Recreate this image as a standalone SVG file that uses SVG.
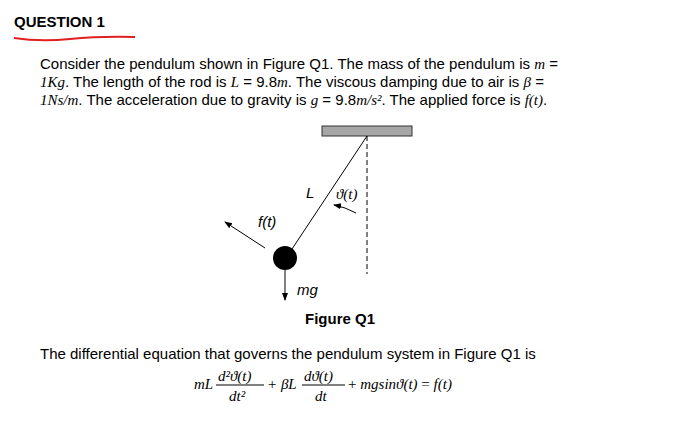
<svg xmlns="http://www.w3.org/2000/svg" width="683" height="423" viewBox="0 0 683 423">
<style>
.t{font-family:"Liberation Sans",Arial,sans-serif;font-size:15px;fill:#000}
.m{font-family:"Liberation Serif","DejaVu Serif",serif;font-style:italic;font-size:15px;fill:#000}
.b{font-weight:bold}
</style>
<defs><marker id="ah" markerWidth="8" markerHeight="8" refX="7" refY="4" orient="auto" markerUnits="userSpaceOnUse"><path d="M0,1 L8,4 L0,7 Z" fill="#000"/></marker></defs>
<rect width="683" height="423" fill="#fff"/>
<text class="t b" x="14" y="27" font-size="15">QUESTION 1</text>
<path d="M14,38 Q40,42 70,39 T135,37" stroke="#e02020" stroke-width="2" fill="none"/>
<text class="t" x="40" y="69">Consider the pendulum shown in Figure Q1.  The mass of the pendulum is <tspan class="m">m</tspan> =</text>
<text class="t" x="40" y="87"><tspan class="m">1Kg</tspan>. The length of the rod is <tspan class="m">L</tspan> = 9.8<tspan class="m">m</tspan>.  The viscous damping due to air is <tspan class="m">β</tspan> =</text>
<text class="t" x="40" y="105"><tspan class="m">1Ns/m</tspan>. The acceleration due to gravity is <tspan class="m">g</tspan> = 9.8<tspan class="m">m/s²</tspan>.  The applied force is <tspan class="m">f(t)</tspan>.</text>
<g id="support"><rect x="322" y="126" width="90" height="10" fill="#a6a6a6" stroke="#333" stroke-width="1"/></g>
<g id="connectors" stroke="#000" fill="none">
<line x1="367" y1="136" x2="367" y2="274" stroke-dasharray="5,3"/>
<line x1="367" y1="136" x2="292" y2="249"/>
<line x1="265" y1="248" x2="225" y2="222" marker-end="url(#ah)"/>
<line x1="285" y1="270" x2="285" y2="300" marker-end="url(#ah)"/>
<path d="M356,213 Q345,207 334,205" marker-end="url(#ah)"/>
</g>
<g id="bob"><circle cx="285" cy="258" r="12" fill="#000"/></g>
<text class="t" x="306" y="198" font-style="italic">L</text>
<text class="m" x="336" y="199">ϑ(t)</text>
<text class="t" x="258" y="227" font-style="italic">f(t)</text>
<text class="t" x="297" y="295" font-style="italic">mg</text>
<text class="t b" x="305" y="324">Figure Q1</text>
<text class="t" x="40" y="359">The differential equation that governs the pendulum system in Figure Q1 is</text>
<g id="equation" class="m">
<text class="m" x="194" y="389">mL</text>
<text class="m" x="218" y="381">d²ϑ(t)</text>
<line x1="216" y1="385" x2="264" y2="385" stroke="#000"/>
<text class="m" x="229" y="401">dt²</text>
<text class="m" x="267" y="389" font-style="normal">+ <tspan font-style="italic">βL</tspan></text>
<text class="m" x="304" y="381">dϑ(t)</text>
<line x1="302" y1="385" x2="345" y2="385" stroke="#000"/>
<text class="m" x="315" y="401">dt</text>
<text class="m" x="348" y="389"><tspan font-style="normal">+ </tspan>mgsinϑ(t) <tspan font-style="normal">=</tspan> f(t)</text>
</g>
</svg>
